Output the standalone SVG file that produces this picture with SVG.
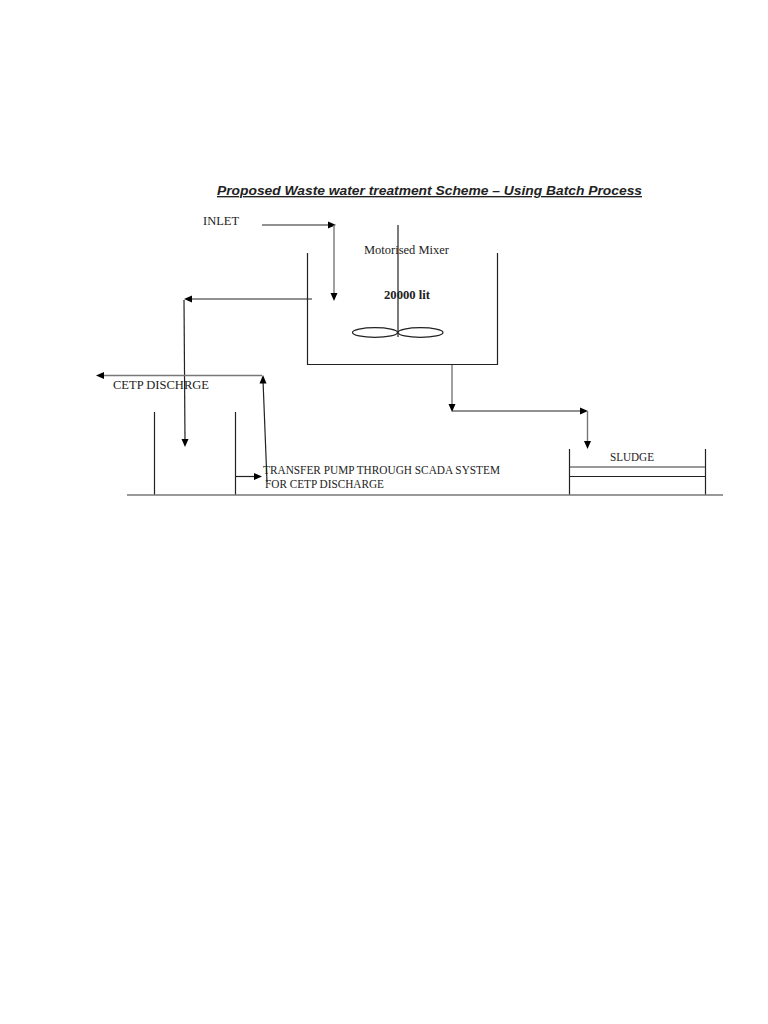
<svg xmlns="http://www.w3.org/2000/svg" width="768" height="1024" viewBox="0 0 768 1024">
<style>
.l{stroke:#222;stroke-width:1.2;fill:none}
.g{stroke:#777;stroke-width:1.4;fill:none}
.h{fill:#000;stroke:none}
text{font-family:"Liberation Serif",serif;font-size:12px;fill:#222}
</style>
<rect width="768" height="1024" fill="#fff"/>
<text id="title" x="217" y="195" style="font-family:'Liberation Sans',sans-serif;font-size:13.5px;font-weight:bold;font-style:italic;text-decoration:underline" fill="#222" textLength="425" lengthAdjust="spacingAndGlyphs">Proposed Waste water treatment Scheme – Using Batch Process</text>
<g id="mixing-tank">
<path class="l" d="M307.500 253V364.500H497.500V253"/>
<path class="l" d="M398 225V337"/>
<ellipse class="l" cx="375" cy="332.500" rx="22.500" ry="4.800"/>
<ellipse class="l" cx="420.500" cy="332.500" rx="22.500" ry="4.800"/>
<text x="364" y="254" textLength="85" lengthAdjust="spacingAndGlyphs">Motorised Mixer</text>
<text x="384" y="299" font-weight="bold" textLength="46" lengthAdjust="spacingAndGlyphs">20000 lit</text>
</g>
<g id="inlet"><text x="203" y="225" textLength="36" lengthAdjust="spacingAndGlyphs">INLET</text></g>
<g id="discharge-tank">
<path class="l" d="M154.500 412V495M235.500 412V495"/>
</g>
<g id="cetp-label"><text x="113" y="389" textLength="96" lengthAdjust="spacingAndGlyphs">CETP DISCHRGE</text></g>
<g id="pump-label">
<text x="263" y="474" textLength="237" lengthAdjust="spacingAndGlyphs">TRANSFER PUMP THROUGH SCADA SYSTEM</text>
<text x="265" y="488" textLength="119" lengthAdjust="spacingAndGlyphs">FOR CETP DISCHARGE</text>
</g>
<g id="sludge-bed">
<path class="l" d="M569.500 449V495M705.500 449V495M570 476.500H705"/>
<path class="g" d="M570 467H705"/>
<text x="610" y="461" textLength="44" lengthAdjust="spacingAndGlyphs">SLUDGE</text>
</g>
<g id="ground"><path class="g" d="M127 495H723"/></g>
<g id="connectors">
<path class="l" d="M262 225H334"/><path class="h" d="M336 225L328 221.500V228.500Z"/>
<path class="g" d="M334 225V294"/><path class="h" d="M334 301L330.500 293H337.500Z"/>
<path class="l" d="M312 299H190"/><path class="h" d="M184 299L192 295.500V302.500Z"/>
<path class="l" d="M184 300L185 441"/><path class="h" d="M185 447L181.500 439H188.500Z"/>
<path class="g" d="M262 375.500H102"/><path class="h" d="M96 375.500L104 372V379Z"/>
<path class="l" d="M267 482L263 380"/><path class="h" d="M263 375L259.500 383.500H266.500Z"/>
<path class="l" d="M236 476.500H257"/><path class="h" d="M262 476.500L254 473V480Z"/>
<path class="g" d="M452 365V405"/><path class="h" d="M452 412L448.500 404H455.500Z"/>
<path class="l" d="M452 411H583"/><path class="h" d="M588 411L580 407.500V414.500Z"/>
<path class="g" d="M587.500 411V442"/><path class="h" d="M587.500 449L584 441H591Z"/>
</g>
</svg>
